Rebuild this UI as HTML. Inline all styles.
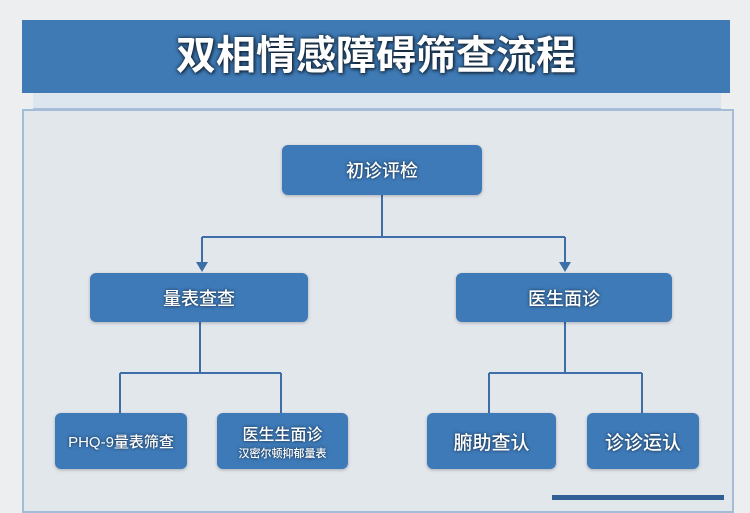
<!DOCTYPE html>
<html><head><meta charset="utf-8"><style>
body{margin:0;width:750px;height:500px;background:#eceeef;position:relative;overflow:hidden;font-family:"Liberation Sans","Noto Sans CJK SC",sans-serif}
.hdr{position:absolute;left:22px;top:20px;width:708px;height:73px;background:#3f7ab5;color:#fff;font-size:40px;font-weight:bold;text-align:center;line-height:73px;text-shadow:0 0 4px #123,1px 1px 3px #123}
.strip{position:absolute;left:33px;top:93px;width:688px;height:15px;background:#dde5ee;border-bottom:2px solid #a9bfd8}
.panel{position:absolute;left:22px;top:109px;width:708px;height:400px;background:#e2e7ec;border:2px solid #a3bdd8}
.b{position:absolute;background:#3e7ab8;color:#fff;border-radius:6px;display:flex;flex-direction:column;align-items:center;justify-content:center;font-weight:500;text-shadow:0 0 3px #123;box-shadow:0 1px 3px rgba(0,0,0,.25)}
</style></head><body>
<div class="hdr">双相情感障碍筛查流程</div>
<div class="strip"></div>
<div class="panel"></div>
<svg style="position:absolute;left:0;top:0" width="750" height="500">
<g stroke="#3d6ea8" stroke-width="2" fill="none">
<path d="M382 195V237M202 237H565M202 237V268M565 237V268"/>
<path d="M200 322V373M120 373H281M120 373V413M281 373V413"/>
<path d="M565 322V373M489 373H642M489 373V413M642 373V413"/>
</g>
<path d="M196 262L208 262L202 272Z M559 262L571 262L565 272Z" fill="#3d6ea8"/>
<g fill="#fff"><circle cx="120" cy="418" r="2.5"/><circle cx="281" cy="418" r="2.5"/><circle cx="489" cy="418" r="2.5"/><circle cx="642" cy="418" r="2.5"/></g>
<rect x="552" y="495" width="172" height="10" fill="#2f5f95"/>
</svg>
<div class="b" style="left:282px;top:145px;width:200px;height:50px;font-size:18px">初诊评检</div>
<div class="b" style="left:90px;top:273px;width:218px;height:49px;font-size:18px">量表查查</div>
<div class="b" style="left:456px;top:273px;width:216px;height:49px;font-size:18px">医生面诊</div>
<div class="b" style="left:55px;top:413px;width:132px;height:56px;font-size:15px">PHQ-9量表筛查</div>
<div class="b" style="left:217px;top:413px;width:131px;height:56px;font-size:16px">医生生面诊<span style="font-size:11px">汉密尔顿抑郁量表</span></div>
<div class="b" style="left:427px;top:413px;width:129px;height:56px;font-size:19px">腑助查认</div>
<div class="b" style="left:587px;top:413px;width:112px;height:56px;font-size:19px">诊诊运认</div>
</body></html>
